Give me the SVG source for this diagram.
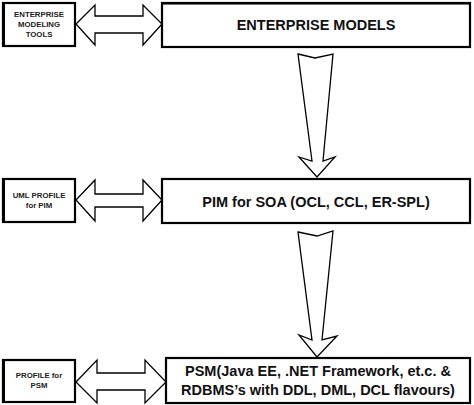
<svg xmlns="http://www.w3.org/2000/svg" width="474" height="405" viewBox="0 0 474 405">
<style>
.box{fill:#fff;stroke:#000;stroke-width:2.2}
.arr{fill:#fff;stroke:#000;stroke-width:1.3;stroke-linejoin:miter}
.big{font-family:"Liberation Sans",Arial,sans-serif;font-weight:bold;font-size:14.5px;text-anchor:middle;fill:#111}
.small{font-family:"Liberation Sans",Arial,sans-serif;font-weight:bold;font-size:7.8px;text-anchor:middle;fill:#222}
</style>
<rect width="474" height="405" fill="#fff"/>
<g id="connectors">
<path class="arr" d="M76,24 L95,5 L95,16 L143,16 L143,5 L162,24 L143,45 L143,33 L95,33 L95,45 Z"/>
<path class="arr" d="M76,200 L95,180 L95,194 L143,194 L143,180 L162,200 L143,221 L143,207 L95,207 L95,221 Z"/>
<path class="arr" d="M76,382 L97,360 L97,373 L145,373 L145,360 L166,382 L145,403 L145,390 L97,390 L97,403 Z"/>
<path class="arr" d="M298,54 L315,58 L333,54 L323,161 L335,157 L317,177 L299,157 L312,161 Z"/>
<path class="arr" d="M298,232 L317,236 L333,231 L322,340 L337,336 L317,357 L299,335 L312,340 Z"/>
</g>
<g id="enterprise-tools">
<rect class="box" x="3" y="3" width="72" height="43"/>
<rect x="2.5" y="3" width="2.5" height="43" fill="#000"/>
<text class="small" x="39" y="17">ENTERPRISE</text>
<text class="small" x="39" y="27">MODELING</text>
<text class="small" x="39" y="37">TOOLS</text>
</g>
<g id="enterprise-models">
<rect class="box" x="162" y="3" width="308" height="44"/>
<rect x="162" y="2" width="308" height="2.5" fill="#000"/>
<text class="big" x="316" y="30">ENTERPRISE MODELS</text>
</g>
<g id="uml-profile">
<rect class="box" x="3" y="179" width="72" height="43"/>
<rect x="2.5" y="179" width="2.5" height="43" fill="#000"/>
<text class="small" x="39" y="198">UML PROFILE</text>
<text class="small" x="39" y="207.5">for PIM</text>
</g>
<g id="pim">
<rect class="box" x="162" y="179" width="308" height="44"/>
<text class="big" x="316" y="207">PIM for SOA (OCL, CCL, ER-SPL)</text>
</g>
<g id="profile-psm">
<rect class="box" x="3" y="360" width="72" height="42"/>
<rect x="2.5" y="360" width="2.5" height="42" fill="#000"/>
<text class="small" x="39" y="378">PROFILE for</text>
<text class="small" x="39" y="387.5">PSM</text>
</g>
<g id="psm">
<rect class="box" x="166" y="358" width="304" height="45"/>
<text class="big" x="318" y="376">PSM(Java EE, .NET Framework, et.c. &amp;</text>
<text class="big" x="318" y="395">RDBMS’s with DDL, DML, DCL flavours)</text>
</g>
</svg>
